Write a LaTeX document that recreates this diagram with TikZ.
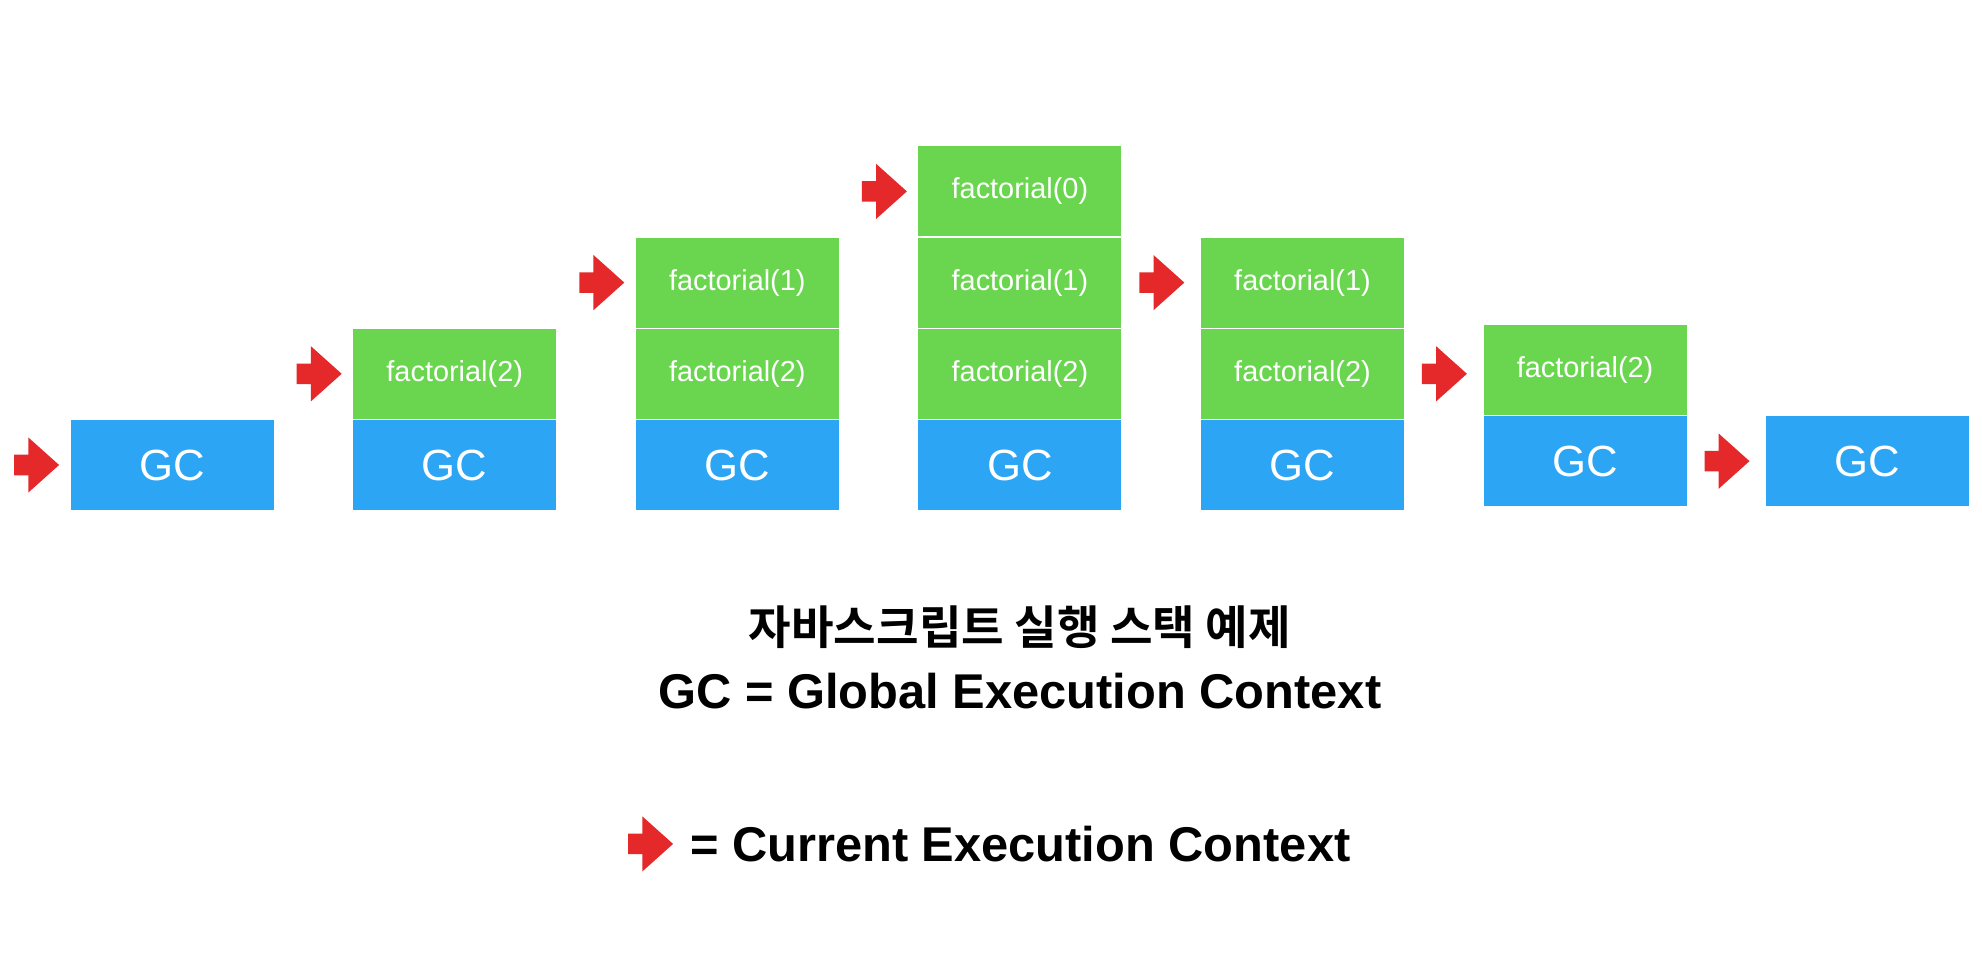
\documentclass[tikz,border=0pt]{standalone}
\usepackage{fontspec}
\setmainfont{Liberation Sans}
\newfontfamily\kofont{Noto Sans CJK KR Bold}
\definecolor{gcblue}{HTML}{2CA5F5}
\definecolor{fgreen}{HTML}{6AD64F}
\definecolor{arred}{HTML}{E5292A}
\newcommand\curarrow[2]{\fill[arred] (#1-35,#2-8) -- (#1-24,#2-8) -- (#1-24,#2-21.5) -- (#1,#2) -- (#1-24,#2+21.5) -- (#1-24,#2+8) -- (#1-35,#2+8) -- cycle;}
\begin{document}
\begin{tikzpicture}[x=1pt,y=-1pt,
  gc/.style={fill=gcblue,minimum width=158pt,minimum height=70pt,inner sep=0,text=white,font=\fontsize{34}{34}\selectfont},
  fb/.style={fill=fgreen,minimum width=158pt,minimum height=70pt,inner sep=0,text=white,font=\fontsize{22.5}{23}\selectfont}]
\useasboundingbox (0,0) rectangle (1543,757);
% column 1
\node[gc] (g1) at (134,362) {GC};
\curarrow{46}{362}
% column 2
\node[gc] (g2) at (354,362) {GC};
\node[fb] (c2a) at (354,291) {factorial(2)};
\curarrow{266}{291}
% column 3
\node[gc] (g3) at (574,362) {GC};
\node[fb] (c3a) at (574,291) {factorial(2)};
\node[fb] (c3b) at (574,220) {factorial(1)};
\curarrow{486}{220}
% column 4
\node[gc] (g4) at (794,362) {GC};
\node[fb] (c4a) at (794,291) {factorial(2)};
\node[fb] (c4b) at (794,220) {factorial(1)};
\node[fb] (c4c) at (794,149) {factorial(0)};
\curarrow{706}{149}
% column 5
\node[gc] (g5) at (1014,362) {GC};
\node[fb] (c5a) at (1014,291) {factorial(2)};
\node[fb] (c5b) at (1014,220) {factorial(1)};
\curarrow{922}{220}
% column 6
\node[gc] (g6) at (1234,359) {GC};
\node[fb] (c6a) at (1234,288) {factorial(2)};
\curarrow{1142}{291}
% column 7
\node[gc] (g7) at (1454,359) {GC};
\curarrow{1362}{359}
% captions
\node (t1) at (794,488) {\kofont\fontsize{36}{36}\selectfont 자바스크립트 실행 스택 예제};
\node[font=\bfseries\fontsize{38}{38}\selectfont] (t2) at (794,538) {GC = Global Execution Context};
\curarrow{524}{657}
\node[font=\bfseries\fontsize{38}{38}\selectfont,anchor=west,inner sep=0] (t3) at (537,657) {= Current Execution Context};
\end{tikzpicture}
\end{document}
